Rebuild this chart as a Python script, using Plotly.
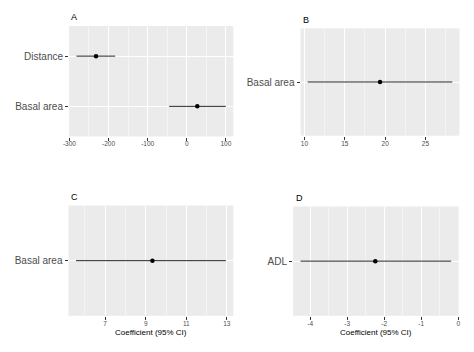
import plotly.graph_objects as go

W, H = 474, 352

# ---- data ----
a_terms = ["Basal area", "Distance"]
a_coef = [27, -232]
a_low = [-45, -282]
a_high = [100, -183]

b_terms = ["Basal area"]
b_coef = [19.37]
b_low = [10.41]
b_high = [28.32]

c_terms = ["Basal area"]
c_coef = [9.33]
c_low = [5.56]
c_high = [12.95]

d_terms = ["ADL"]
d_coef = [-2.24]
d_low = [-4.26]
d_high = [-0.19]

a_ticks = [-300, -200, -100, 0, 100]
a_ticktext = ["-300", "-200", "-100", "0", "100"]
b_ticks = [10, 15, 20, 25]
b_ticktext = ["10", "15", "20", "25"]
c_ticks = [7, 9, 11, 13]
c_ticktext = ["7", "9", "11", "13"]
d_ticks = [-4, -3, -2, -1, 0]
d_ticktext = ["-4", "-3", "-2", "-1", "0"]

panel_labels = ["A", "B", "C", "D"]
x_title = "Coefficient (95% CI)"

# ---- layout helpers ----
def px_dom_x(x0, x1):
    return [x0 / W, x1 / W]

def px_dom_y(top, bottom):
    return [1 - bottom / H, 1 - top / H]

panels = [
    dict(terms=a_terms, coef=a_coef, low=a_low, high=a_high, ticks=a_ticks, tt=a_ticktext,
         xd=px_dom_x(69, 233.3), yd=px_dom_y(26, 136.5), minor=50, title=False),
    dict(terms=b_terms, coef=b_coef, low=b_low, high=b_high, ticks=b_ticks, tt=b_ticktext,
         xd=px_dom_x(300.5, 459.5), yd=px_dom_y(28.3, 135.7), minor=2.5, title=False),
    dict(terms=c_terms, coef=c_coef, low=c_low, high=c_high, ticks=c_ticks, tt=c_ticktext,
         xd=px_dom_x(68.5, 233.3), yd=px_dom_y(205.5, 315.8), minor=1, title=True),
    dict(terms=d_terms, coef=d_coef, low=d_low, high=d_high, ticks=d_ticks, tt=d_ticktext,
         xd=px_dom_x(293, 458.7), yd=px_dom_y(206.5, 315.8), minor=0.5, title=True),
]

fig = go.Figure()
layout = dict(
    template="none",
    width=W, height=H, margin=dict(l=0, r=0, t=0, b=0, pad=0),
    paper_bgcolor="white", plot_bgcolor="#EBEBEB", showlegend=False,
    font=dict(family="Liberation Sans, Arial, sans-serif", color="#4D4D4D"),
)

anns = []
for i, p in enumerate(panels):
    n = i + 1
    xa = "x" if n == 1 else f"x{n}"
    ya = "y" if n == 1 else f"y{n}"
    fig.add_trace(go.Scatter(
        x=p["coef"], y=p["terms"], mode="markers",
        marker=dict(color="black", size=4.5, line=dict(width=0)),
        error_x=dict(type="data", symmetric=False,
                     array=[h - c for h, c in zip(p["high"], p["coef"])],
                     arrayminus=[c - l for c, l in zip(p["coef"], p["low"])],
                     width=0, color="#111111", thickness=0.9),
        xaxis=xa, yaxis=ya,
    ))
    lo = min(p["low"]); hi = max(p["high"])
    ex = (hi - lo) * 0.05
    nterms = len(p["terms"])
    xkey = "xaxis" if n == 1 else f"xaxis{n}"
    ykey = "yaxis" if n == 1 else f"yaxis{n}"
    layout[xkey] = dict(
        domain=p["xd"], anchor=ya, range=[lo - ex, hi + ex], automargin=False,
        tickmode="array", tickvals=p["ticks"], ticktext=p["tt"],
        ticks="outside", ticklen=3, tickwidth=1, tickcolor="#333333",
        ticklabelstandoff=-2,
        tickfont=dict(size=6.5, color="#4D4D4D"),
        showgrid=True, gridcolor="white", gridwidth=1, zeroline=False,
        minor=dict(dtick=p["minor"], tick0=p["ticks"][0], showgrid=True,
                   gridcolor="#F4F4F4", gridwidth=0.6, ticks=""),
        showline=False,
    )
    layout[ykey] = dict(
        domain=p["yd"], anchor=xa, type="category", automargin=False,
        categoryorder="array", categoryarray=p["terms"],
        range=[-0.6, nterms - 1 + 0.6],
        ticks="outside", ticklen=3, tickwidth=1, tickcolor="#333333",
        tickfont=dict(size=10, color="#4D4D4D"),
        showgrid=True, gridcolor="white", gridwidth=1, zeroline=False, showline=False,
    )
    if p["title"]:
        anns.append(dict(text=x_title, x=(p["xd"][0] + p["xd"][1]) / 2, y=1 - 332.5 / H,
                         xref="paper", yref="paper", xanchor="center", yanchor="middle",
                         showarrow=False, font=dict(size=8, color="#000000")))

label_pos = [(68.5, 17), (301, 20), (69, 197), (293.5, 198)]
for lab, (x, y) in zip(panel_labels, label_pos):
    anns.append(dict(text=lab, x=x / W, y=1 - y / H, xref="paper", yref="paper",
                     xanchor="left", yanchor="middle", showarrow=False,
                     font=dict(size=9, color="#000000")))
layout["annotations"] = anns
fig.update_layout(**layout)
fig.write_html("out.html")
